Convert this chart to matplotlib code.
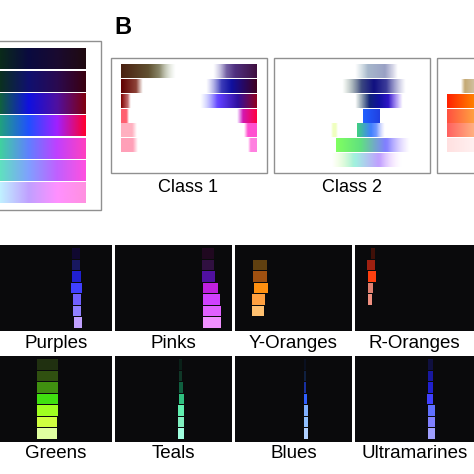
import numpy as np
import matplotlib
matplotlib.use("Agg")
import matplotlib.pyplot as plt
from matplotlib.colors import to_rgb
from matplotlib.patches import Rectangle

# Panel A: 7 gradient rows (colour stops left -> right)
a_rows = [
    ['#0a2a1a', '#0a0a40', '#1a0a30', '#200a10'],
    ['#0a3020', '#101070', '#2a0a50', '#3a0010'],
    ['#106040', '#1010e0', '#5010a0', '#800010'],
    ['#20a080', '#2050ff', '#a020ff', '#ff0030'],
    ['#40d0a0', '#6080ff', '#c040ff', '#ff40c0'],
    ['#60e0c0', '#80a0ff', '#c060ff', '#ff50e0'],
    ['#c0f0ff', '#c0a0ff', '#ff90ff', '#ff90e0'],
]

# Panel B classes: (row, x0, x1, colour stops, fade_left, fade_right)
class1 = [
    (0, 121, 176, ['#4a2010', '#605030', '#c8d8c0'], 0, 1),
    (1, 121, 143, ['#600000', '#a06050'], 0, 1),
    (2, 121, 131, ['#800000', '#e0a0a0'], 0, 1),
    (3, 121, 129, ['#ff6070'], 0, 1),
    (4, 121, 137, ['#ffb0c0'], 0, 1),
    (5, 121, 138, ['#ffa0b8'], 0, 1),
    (0, 213, 257, ['#b0b0e0', '#503080', '#401040'], 1, 0),
    (1, 206, 257, ['#8080e0', '#1010a0', '#400020'], 1, 0),
    (2, 200, 257, ['#a0b0ff', '#6040ff', '#3010a0', '#900020'], 1, 0),
    (3, 237, 257, ['#c020e0', '#ff0040'], 1, 0),
    (4, 244, 257, ['#ff50d0'], 1, 0),
    (5, 248, 257, ['#ff80e0'], 1, 0),
]
class2 = [
    (0, 355, 398, ['#b0c8d0', '#9090c0'], 1, 1),
    (1, 342, 406, ['#80a080', '#101080', '#8080c0'], 1, 1),
    (2, 355, 403, ['#104040', '#1010a0', '#6020ff'], 1, 1),
    (3, 363, 380, ['#2060ff', '#2040e0'], 0, 0),
    (4, 357, 385, ['#40d080', '#4080ff', '#c0c0ff'], 0, 1),
    (4, 331, 338, ['#f0ffc0'], 1, 1),
    (5, 336, 410, ['#80ff60', '#60e080', '#8080ff', '#d0b0ff'], 0, 1),
    (6, 332, 402, ['#e0ffa0', '#a0f0e0', '#c0a0ff', '#ffe0ff'], 1, 1),
]
class3 = [
    (1, 461, 474, ['#c0a060', '#d0c0a0'], 1, 0),
    (2, 447, 474, ['#ff2000', '#ff8000'], 0, 0),
    (3, 447, 474, ['#ff5040', '#ffa040'], 0, 0),
    (4, 447, 474, ['#ff6060', '#ffb080'], 0, 0),
    (5, 447, 474, ['#ffe0e0', '#fff0f0'], 0, 0),
]
class_labels = ['Class 1', 'Class 2']

# Bottom grid: family name, bar x ranges per row, colours per row
families = ['Purples', 'Pinks', 'Y-Oranges', 'R-Oranges',
            'Greens', 'Teals', 'Blues', 'Ultramarines']
fam_bars = {
    'Purples': [(72, 80), (72, 80), (72, 81), (71, 82), (73, 81), (73, 81), (74, 82)],
    'Pinks': [(202, 214), (202, 214), (202, 215), (203, 218), (203, 220), (203, 221), (203, 221)],
    'Y-Oranges': [None, (253, 267), (253, 267), (254, 268), (252, 265), (252, 264), None],
    'R-Oranges': [(371, 375), (367, 375), (368, 376), (368, 373), (368, 372), None, None],
    'Greens': [(37, 58), (37, 58), (37, 58), (37, 58), (37, 58), (37, 57), (37, 57)],
    'Teals': [(179, 182), (179, 182), (179, 183), (179, 184), (178, 184), (178, 184), (178, 184)],
    'Blues': [(304, 306), (304, 306), (304, 306), (304, 307), (304, 308), (304, 308), (304, 308)],
    'Ultramarines': [(428, 433), (428, 433), (428, 433), (427, 433), (428, 435), (428, 435), (428, 435)],
}
fam_colors = {
    'Purples': ['#100830', '#181860', '#2020d0', '#4040ff', '#7060ff', '#9080ff', '#c0a0ff'],
    'Pinks': ['#200820', '#301040', '#5010a0', '#c020e0', '#d040ff', '#e060ff', '#f090ff'],
    'Y-Oranges': [None, '#604010', '#a05010', '#ff9010', '#ffa040', '#ffc070', None],
    'R-Oranges': ['#401008', '#a02010', '#ff4010', '#e08070', '#f09080', None, None],
    'Greens': ['#203010', '#305010', '#409010', '#40e010', '#a0ff20', '#d0ff40', '#e0ffa0'],
    'Teals': ['#0a2018', '#103828', '#106040', '#30c080', '#60f0b0', '#80f0c0', '#a0ffe0'],
    'Blues': ['#0a1020', '#102040', '#1830a0', '#3060ff', '#80b0ff', '#90c0ff', '#b0d0ff'],
    'Ultramarines': ['#101040', '#1818a0', '#2020d0', '#4040ff', '#6070ff', '#8080ff', '#a0a0ff'],
}
panel_x = [(0, 112), (115, 232), (235, 352), (355, 474)]
panel_y = [(245, 331), (356, 442)]


def grad_bar(ax, x0, x1, y0, y1, stops, fade_l=0, fade_r=0, n=80):
    cols = np.array([to_rgb(c) for c in stops])
    t = np.linspace(0, 1, n)
    if len(cols) == 1:
        rgb = np.repeat(cols, n, axis=0)
    else:
        pos = np.linspace(0, 1, len(cols))
        rgb = np.stack([np.interp(t, pos, cols[:, k]) for k in range(3)], axis=1)
    alpha = np.ones(n)
    if fade_l:
        alpha *= np.clip(t / 0.3, 0, 1)
    if fade_r:
        alpha *= np.clip((1 - t) / 0.3, 0, 1)
    img = np.concatenate([rgb, alpha[:, None]], axis=1)[None, :, :]
    ax.imshow(img, extent=(x0, x1, y1, y0), aspect='auto', interpolation='bilinear')


fig = plt.figure(figsize=(4.74, 4.74), dpi=100)
ax = fig.add_axes([0, 0, 1, 1])
ax.set_axis_off()

# Panel A
ax.add_patch(Rectangle((-5, 41), 106, 169, fill=False, ec='#909090', lw=1))
row_h = 156 / len(a_rows)
for i, stops in enumerate(a_rows):
    y0 = 48 + i * row_h
    grad_bar(ax, 0, 86, y0 + 0.8, y0 + row_h - 0.8, stops)

# Panel B
ax.text(114, 34, 'B', fontsize=17, fontweight='bold', family='Liberation Sans')
for bx, bars, nrow in [(111, class1, 6), (274, class2, 7), (437, class3, 7)]:
    ax.add_patch(Rectangle((bx, 58), 156, 115, fill=False, ec='#909090', lw=1))
    for r, x0, x1, stops, fl, fr in bars:
        y0 = 63 + r * 15
        grad_bar(ax, x0, x1, y0 + 0.5, y0 + 14.5, stops, fl, fr)
for i, lab in enumerate(class_labels):
    ax.text(188 + i * 164, 188, lab, fontsize=13, ha='center', va='center',
            family='Liberation Sans')

# Bottom colour families
for k, fam in enumerate(families):
    r, c = divmod(k, 4)
    px0, px1 = panel_x[c]
    py0, py1 = panel_y[r]
    ax.add_patch(Rectangle((px0, py0), px1 - px0, py1 - py0, color='#0a0a0c', lw=0))
    bh = (py1 - py0 - 6) / 7
    for j, (xr, col) in enumerate(zip(fam_bars[fam], fam_colors[fam])):
        if xr is None or col is None:
            continue
        yb = py0 + 3 + j * bh
        ax.add_patch(Rectangle((xr[0], yb + 0.4), xr[1] - xr[0], bh - 0.8,
                               color=col, lw=0))
    ax.text((px0 + px1) / 2, py1 + 12, fam, fontsize=13.5, ha='center', va='center',
            family='Liberation Sans')

ax.set_xlim(0, 474)
ax.set_ylim(474, 0)
fig.savefig('out.png', dpi=100, facecolor='white')
